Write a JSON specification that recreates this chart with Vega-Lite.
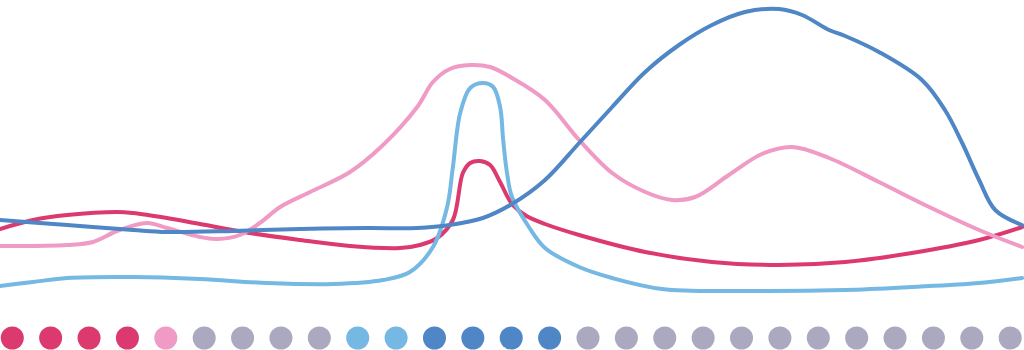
{
  "$schema": "https://vega.github.io/schema/vega-lite/v6.json",
  "width": 1024,
  "height": 350,
  "padding": 0,
  "autosize": {"type": "none"},
  "background": "white",
  "config": {"view": {"stroke": null}},
  "datasets": {
    "curves": [
      {"hormone": "FSH", "day": 0.68, "level": 121},
      {"hormone": "FSH", "day": 1.54, "level": 130},
      {"hormone": "FSH", "day": 2.43, "level": 135},
      {"hormone": "FSH", "day": 3.73, "level": 138},
      {"hormone": "FSH", "day": 4.15, "level": 137},
      {"hormone": "FSH", "day": 5.03, "level": 132},
      {"hormone": "FSH", "day": 5.89, "level": 126},
      {"hormone": "FSH", "day": 7.19, "level": 117},
      {"hormone": "FSH", "day": 8.5, "level": 110},
      {"hormone": "FSH", "day": 9.8, "level": 104},
      {"hormone": "FSH", "day": 11.1, "level": 102},
      {"hormone": "FSH", "day": 11.62, "level": 105},
      {"hormone": "FSH", "day": 12.07, "level": 112},
      {"hormone": "FSH", "day": 12.48, "level": 130},
      {"hormone": "FSH", "day": 12.74, "level": 177},
      {"hormone": "FSH", "day": 12.93, "level": 187},
      {"hormone": "FSH", "day": 13.19, "level": 189},
      {"hormone": "FSH", "day": 13.45, "level": 185},
      {"hormone": "FSH", "day": 13.71, "level": 168},
      {"hormone": "FSH", "day": 14.02, "level": 146},
      {"hormone": "FSH", "day": 14.4, "level": 134},
      {"hormone": "FSH", "day": 14.88, "level": 126},
      {"hormone": "FSH", "day": 15.77, "level": 115},
      {"hormone": "FSH", "day": 17.49, "level": 98},
      {"hormone": "FSH", "day": 19.23, "level": 88},
      {"hormone": "FSH", "day": 20.98, "level": 85},
      {"hormone": "FSH", "day": 22.7, "level": 88},
      {"hormone": "FSH", "day": 24.44, "level": 97},
      {"hormone": "FSH", "day": 26.19, "level": 110},
      {"hormone": "FSH", "day": 27.31, "level": 123},

      {"hormone": "Estrogen", "day": 0.68, "level": 104},
      {"hormone": "Estrogen", "day": 2.43, "level": 105},
      {"hormone": "Estrogen", "day": 3.1, "level": 108},
      {"hormone": "Estrogen", "day": 3.73, "level": 119},
      {"hormone": "Estrogen", "day": 4.51, "level": 127},
      {"hormone": "Estrogen", "day": 5.03, "level": 122},
      {"hormone": "Estrogen", "day": 5.89, "level": 113},
      {"hormone": "Estrogen", "day": 6.33, "level": 111},
      {"hormone": "Estrogen", "day": 6.93, "level": 115},
      {"hormone": "Estrogen", "day": 7.45, "level": 127},
      {"hormone": "Estrogen", "day": 7.98, "level": 143},
      {"hormone": "Estrogen", "day": 8.76, "level": 158},
      {"hormone": "Estrogen", "day": 9.8, "level": 178},
      {"hormone": "Estrogen", "day": 10.66, "level": 205},
      {"hormone": "Estrogen", "day": 11.55, "level": 243},
      {"hormone": "Estrogen", "day": 11.96, "level": 268},
      {"hormone": "Estrogen", "day": 12.4, "level": 281},
      {"hormone": "Estrogen", "day": 12.93, "level": 285},
      {"hormone": "Estrogen", "day": 13.45, "level": 283},
      {"hormone": "Estrogen", "day": 14.02, "level": 272},
      {"hormone": "Estrogen", "day": 14.88, "level": 250},
      {"hormone": "Estrogen", "day": 15.77, "level": 210},
      {"hormone": "Estrogen", "day": 16.63, "level": 177},
      {"hormone": "Estrogen", "day": 17.49, "level": 158},
      {"hormone": "Estrogen", "day": 18.19, "level": 150},
      {"hormone": "Estrogen", "day": 18.79, "level": 153},
      {"hormone": "Estrogen", "day": 19.67, "level": 175},
      {"hormone": "Estrogen", "day": 20.53, "level": 196},
      {"hormone": "Estrogen", "day": 21.32, "level": 203},
      {"hormone": "Estrogen", "day": 22.28, "level": 192},
      {"hormone": "Estrogen", "day": 23.58, "level": 168},
      {"hormone": "Estrogen", "day": 24.89, "level": 143},
      {"hormone": "Estrogen", "day": 26.19, "level": 120},
      {"hormone": "Estrogen", "day": 27.31, "level": 103},

      {"hormone": "LH", "day": 0.68, "level": 64},
      {"hormone": "LH", "day": 1.54, "level": 68},
      {"hormone": "LH", "day": 2.43, "level": 72},
      {"hormone": "LH", "day": 4.15, "level": 73},
      {"hormone": "LH", "day": 5.89, "level": 71},
      {"hormone": "LH", "day": 7.64, "level": 67},
      {"hormone": "LH", "day": 9.36, "level": 66},
      {"hormone": "LH", "day": 10.66, "level": 70},
      {"hormone": "LH", "day": 11.36, "level": 78},
      {"hormone": "LH", "day": 11.96, "level": 103},
      {"hormone": "LH", "day": 12.33, "level": 143},
      {"hormone": "LH", "day": 12.48, "level": 183},
      {"hormone": "LH", "day": 12.67, "level": 237},
      {"hormone": "LH", "day": 12.93, "level": 262},
      {"hormone": "LH", "day": 13.26, "level": 267},
      {"hormone": "LH", "day": 13.53, "level": 263},
      {"hormone": "LH", "day": 13.71, "level": 243},
      {"hormone": "LH", "day": 13.79, "level": 210},
      {"hormone": "LH", "day": 13.89, "level": 177},
      {"hormone": "LH", "day": 14.02, "level": 153},
      {"hormone": "LH", "day": 14.46, "level": 123},
      {"hormone": "LH", "day": 14.88, "level": 102},
      {"hormone": "LH", "day": 15.77, "level": 83},
      {"hormone": "LH", "day": 16.63, "level": 72},
      {"hormone": "LH", "day": 17.93, "level": 61},
      {"hormone": "LH", "day": 20.09, "level": 59},
      {"hormone": "LH", "day": 22.7, "level": 60},
      {"hormone": "LH", "day": 24.44, "level": 63},
      {"hormone": "LH", "day": 26.19, "level": 67},
      {"hormone": "LH", "day": 27.31, "level": 72},

      {"hormone": "Progesterone", "day": 0.68, "level": 130},
      {"hormone": "Progesterone", "day": 2.43, "level": 125},
      {"hormone": "Progesterone", "day": 4.15, "level": 120},
      {"hormone": "Progesterone", "day": 5.03, "level": 118},
      {"hormone": "Progesterone", "day": 6.75, "level": 119},
      {"hormone": "Progesterone", "day": 8.5, "level": 121},
      {"hormone": "Progesterone", "day": 10.24, "level": 122},
      {"hormone": "Progesterone", "day": 11.55, "level": 122},
      {"hormone": "Progesterone", "day": 12.4, "level": 125},
      {"hormone": "Progesterone", "day": 13.26, "level": 132},
      {"hormone": "Progesterone", "day": 14.02, "level": 146},
      {"hormone": "Progesterone", "day": 14.88, "level": 170},
      {"hormone": "Progesterone", "day": 15.77, "level": 207},
      {"hormone": "Progesterone", "day": 16.63, "level": 243},
      {"hormone": "Progesterone", "day": 17.49, "level": 278},
      {"hormone": "Progesterone", "day": 18.37, "level": 305},
      {"hormone": "Progesterone", "day": 19.23, "level": 325},
      {"hormone": "Progesterone", "day": 20.09, "level": 338},
      {"hormone": "Progesterone", "day": 20.98, "level": 341},
      {"hormone": "Progesterone", "day": 21.58, "level": 335},
      {"hormone": "Progesterone", "day": 22.28, "level": 320},
      {"hormone": "Progesterone", "day": 22.7, "level": 314},
      {"hormone": "Progesterone", "day": 23.58, "level": 298},
      {"hormone": "Progesterone", "day": 24.7, "level": 270},
      {"hormone": "Progesterone", "day": 25.3, "level": 240},
      {"hormone": "Progesterone", "day": 25.75, "level": 207},
      {"hormone": "Progesterone", "day": 26.19, "level": 170},
      {"hormone": "Progesterone", "day": 26.61, "level": 140},
      {"hormone": "Progesterone", "day": 27.31, "level": 125}
    ],
    "days": [
      {"day": 1, "phase": "Period"},
      {"day": 2, "phase": "Period"},
      {"day": 3, "phase": "Period"},
      {"day": 4, "phase": "Period"},
      {"day": 5, "phase": "Spotting"},
      {"day": 6, "phase": "Follicular"},
      {"day": 7, "phase": "Follicular"},
      {"day": 8, "phase": "Follicular"},
      {"day": 9, "phase": "Follicular"},
      {"day": 10, "phase": "Fertile"},
      {"day": 11, "phase": "Fertile"},
      {"day": 12, "phase": "Peak fertility"},
      {"day": 13, "phase": "Peak fertility"},
      {"day": 14, "phase": "Peak fertility"},
      {"day": 15, "phase": "Peak fertility"},
      {"day": 16, "phase": "Luteal"},
      {"day": 17, "phase": "Luteal"},
      {"day": 18, "phase": "Luteal"},
      {"day": 19, "phase": "Luteal"},
      {"day": 20, "phase": "Luteal"},
      {"day": 21, "phase": "Luteal"},
      {"day": 22, "phase": "Luteal"},
      {"day": 23, "phase": "Luteal"},
      {"day": 24, "phase": "Luteal"},
      {"day": 25, "phase": "Luteal"},
      {"day": 26, "phase": "Luteal"},
      {"day": 27, "phase": "Luteal"}
    ]
  },
  "layer": [
    {
      "data": {"name": "curves"},
      "mark": {"type": "line", "interpolate": "catmull-rom", "strokeWidth": 4, "strokeCap": "round"},
      "encoding": {
        "x": {"field": "day", "type": "quantitative", "scale": {"domain": [0.68, 27.36], "nice": false, "zero": false}, "axis": null},
        "y": {"field": "level", "type": "quantitative", "scale": {"domain": [0, 350], "nice": false, "zero": false}, "axis": null},
        "detail": {"field": "hormone"},
        "color": {
          "field": "hormone",
          "type": "nominal",
          "scale": {"domain": ["FSH", "Estrogen", "LH", "Progesterone"], "range": ["#dc3a6e", "#f09ac6", "#74b8e3", "#4f86c5"]},
          "legend": null
        }
      }
    },
    {
      "data": {"name": "days"},
      "transform": [{"calculate": "12", "as": "row"}],
      "mark": {"type": "circle", "size": 530, "opacity": 1},
      "encoding": {
        "x": {"field": "day", "type": "quantitative", "scale": {"domain": [0.68, 27.36], "nice": false, "zero": false}, "axis": null},
        "y": {"field": "row", "type": "quantitative", "scale": {"domain": [0, 350], "nice": false, "zero": false}, "axis": null},
        "color": {
          "field": "phase",
          "type": "nominal",
          "scale": {"domain": ["Period", "Spotting", "Follicular", "Fertile", "Peak fertility", "Luteal"], "range": ["#dc3a6e", "#f09ac6", "#aba9bf", "#74b8e3", "#4f86c5", "#aba9bf"]},
          "legend": null
        }
      }
    }
  ],
  "resolve": {"scale": {"color": "independent"}}
}
